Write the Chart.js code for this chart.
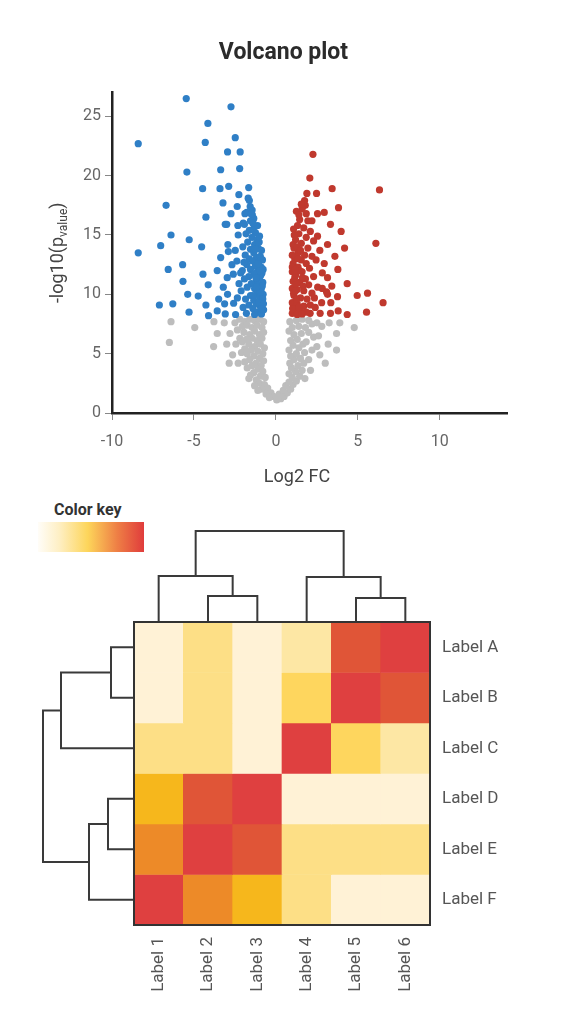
<!DOCTYPE html>
<html>
<head>
<meta charset="utf-8">
<script src="https://cdn.jsdelivr.net/npm/chart.js@4.4.0/dist/chart.umd.min.js"></script>
<style>
  body { margin: 0; background: #fff; font-family: Roboto, sans-serif; }
  #page { position: relative; width: 567px; height: 1024px; overflow: hidden; }
  canvas { position: absolute; }
  #key-title { position: absolute; left: 54px; top: 500px; line-height: 20px; font-weight: bold; font-size: 16px; color: #333; }
  #key-bar { position: absolute; left: 38px; top: 522px; width: 106px; height: 30px;
    background: linear-gradient(to right, #fffdf8 0%, #feefc4 20%, #fdd55a 47%, #ee7e45 75%, #e03c3c 100%); }
</style>
</head>
<body>
<div id="page">
  <canvas id="volcano" width="567" height="500" style="left:0;top:0"></canvas>
  <div id="key-title">Color key</div>
  <div id="key-bar"></div>
  <canvas id="dendro-top" width="312" height="111" style="left:126px;top:519px"></canvas>
  <canvas id="dendro-left" width="112" height="319" style="left:30px;top:614px"></canvas>
  <canvas id="heatmap" width="443" height="422" style="left:124px;top:602px"></canvas>
</div>
<script>
// volcano plot data: [log2 fold change, -log10 p]
const downRegulated = [
    [-5.47, 26.5], [-2.74, 25.8], [-4.15, 24.4], [-8.4, 22.7], [-4.31, 22.8], [-2.48, 23.2],
    [-2.95, 22.0], [-2.18, 22.0], [-5.43, 20.3], [-3.37, 20.5], [-2.21, 20.6], [-4.47, 18.9],
    [-3.41, 18.9], [-2.88, 19.1], [-1.66, 19.0], [-2.26, 18.4], [-1.69, 18.1], [-6.7, 17.5],
    [-3.23, 17.7], [-2.36, 17.4], [-1.57, 17.4], [-4.27, 16.5], [-2.74, 16.8], [-3.09, 15.9],
    [-3.0, 15.9], [-1.89, 16.8], [-1.44, 16.7], [-1.99, 16.0], [-6.4, 15.0], [-5.29, 14.6],
    [-7.03, 14.1], [-4.53, 14.0], [-2.93, 14.2], [-2.3, 15.0], [-2.32, 15.8], [-8.4, 13.5],
    [-3.37, 13.1], [-2.38, 12.8], [-2.48, 13.7], [-2.9, 13.6], [-5.69, 12.5], [-6.57, 12.1],
    [-3.58, 12.0], [-2.68, 12.5], [-2.6, 11.7], [-4.45, 11.7], [-5.67, 11.1], [-4.13, 10.8],
    [-2.97, 11.4], [-3.21, 10.6], [-5.38, 10.0], [-4.74, 9.85], [-3.49, 9.6], [-2.95, 10.0],
    [-7.11, 9.1], [-6.29, 9.2], [-4.27, 9.1], [-3.13, 9.2], [-5.3, 8.5], [-4.11, 8.2],
    [-3.58, 8.6], [-3.09, 8.35], [-2.58, 9.25], [-2.46, 8.3],
    [-1.62, 17.9], [-1.45, 17.1], [-1.78, 16.9], [-1.35, 16.4], [-1.55, 16.2], [-1.92, 15.9],
    [-1.32, 15.7], [-1.62, 15.4], [-1.25, 15.2], [-1.82, 15.1], [-1.45, 14.8], [-1.15, 14.6],
    [-1.72, 14.4], [-1.3, 14.2], [-2.02, 14.0], [-1.55, 13.8], [-1.08, 13.9], [-1.35, 13.5],
    [-1.87, 13.3], [-1.18, 13.1], [-0.95, 13.2], [-1.62, 13.0], [-1.42, 12.8], [-1.05, 12.7],
    [-1.77, 12.5], [-1.25, 12.4], [-0.9, 12.3], [-1.55, 12.1], [-2.05, 12.0], [-1.15, 11.9],
    [-1.35, 11.7], [-0.85, 11.8], [-1.65, 11.5], [-1.0, 11.4], [-1.92, 11.3], [-1.2, 11.1],
    [-0.8, 11.0], [-1.5, 10.9], [-1.05, 10.8], [-1.75, 10.6], [-1.3, 10.5], [-0.9, 10.4],
    [-2.12, 10.3], [-1.15, 10.1], [-0.78, 10.0], [-1.55, 9.9], [-1.0, 9.8], [-1.85, 9.6],
    [-1.35, 9.5], [-0.85, 9.4], [-1.2, 9.2], [-1.65, 9.1], [-0.95, 9.0], [-2.0, 8.9],
    [-1.4, 8.8], [-0.75, 8.7], [-1.1, 8.5], [-1.8, 8.4], [-0.88, 8.35], [-1.3, 8.3],
    [-0.82, 12.9], [-1.02, 14.4], [-1.12, 15.8], [-0.8, 9.6], [-0.92, 11.6], [-1.05, 9.3],
    [-2.25, 10.9], [-2.35, 9.7], [-2.15, 11.8], [-1.95, 12.7],
    [-0.78, 12.1], [-0.88, 13.7], [-0.98, 12.0], [-1.1, 12.6], [-0.83, 10.7], [-0.95, 10.2],
    [-1.18, 10.6], [-0.76, 9.2], [-1.25, 13.8], [-1.4, 16.0], [-1.52, 16.8], [-0.9, 8.8],
    [-1.0, 14.9], [-1.22, 11.4], [-1.4, 9.9]
];
const upRegulated = [
    [2.26, 21.8], [2.07, 19.8], [1.89, 18.5], [2.48, 18.5], [3.43, 18.9], [6.32, 18.8],
    [1.79, 17.5], [2.54, 16.8], [2.95, 16.9], [3.82, 17.3], [2.2, 16.2], [3.33, 15.9],
    [3.98, 15.3], [2.54, 14.9], [3.15, 14.2], [4.19, 13.9], [6.1, 14.3], [3.6, 13.2],
    [2.68, 13.7], [2.95, 12.6], [3.78, 12.1], [2.83, 11.8], [3.15, 11.4], [4.35, 10.9],
    [3.41, 10.7], [2.83, 10.5], [3.09, 10.2], [3.15, 10.0], [4.96, 9.9], [5.59, 10.1],
    [6.54, 9.3], [3.76, 9.8], [2.79, 9.3], [3.35, 9.3], [3.8, 8.6], [4.35, 8.3],
    [5.53, 8.5], [2.7, 8.4], [3.33, 8.4], [2.09, 8.4],
    [1.75, 17.9], [1.6, 17.2], [1.85, 16.8], [1.45, 16.3], [1.95, 16.2], [1.32, 15.8],
    [1.7, 15.6], [2.1, 15.3], [1.4, 15.1], [1.85, 14.8], [1.2, 14.6], [2.3, 14.5],
    [1.55, 14.3], [1.1, 13.9], [1.95, 13.9], [1.35, 13.5], [1.75, 13.3], [2.2, 13.2],
    [1.15, 13.0], [1.55, 12.9], [1.05, 12.6], [1.85, 12.6], [1.35, 12.3], [2.05, 12.2],
    [1.0, 11.9], [1.6, 11.9], [1.2, 11.6], [2.3, 11.5], [1.8, 11.3], [1.05, 11.1],
    [1.45, 11.0], [2.0, 10.8], [1.0, 10.5], [1.3, 10.4], [1.7, 10.3], [2.2, 10.1],
    [1.1, 9.9], [1.5, 9.7], [1.9, 9.6], [1.0, 9.3], [1.3, 9.2], [1.7, 9.0],
    [2.1, 9.1], [1.15, 8.8], [1.5, 8.6], [1.0, 8.4], [1.85, 8.5], [1.3, 8.3],
    [2.4, 8.9], [1.6, 8.35], [1.12, 15.0], [1.05, 14.2], [1.25, 17.0], [1.0, 13.3],
    [2.45, 12.9], [2.55, 10.6], [2.35, 9.7], [1.45, 12.0], [1.22, 10.9], [1.62, 11.4],
    [1.0, 12.3], [1.08, 10.1], [1.18, 12.1], [1.02, 8.8], [1.25, 9.6], [1.35, 13.0],
    [1.15, 11.4], [1.4, 16.7], [1.55, 17.6], [1.3, 14.0], [1.08, 15.5], [1.4, 8.9],
    [1.2, 10.3], [1.65, 10.7], [1.5, 13.7]
];
const notSignificant = [
    [-6.4, 7.7], [-6.5, 5.95], [-4.95, 7.2], [-3.78, 7.7], [-3.8, 5.6], [-3.15, 7.6],
    [-3.58, 6.7], [-2.8, 6.7], [-3.0, 5.8], [-2.85, 4.2], [-2.64, 4.9], [-2.5, 7.6],
    [-2.44, 5.8], [-2.3, 4.2], [-1.65, 2.9],
    [-2.2, 7.9], [-1.9, 7.7], [-1.6, 7.9], [-1.3, 7.8], [-1.0, 7.9], [-0.75, 7.7],
    [-2.05, 7.3], [-1.75, 7.4], [-1.45, 7.2], [-1.15, 7.4], [-0.85, 7.2], [-2.35, 7.0],
    [-1.95, 6.8], [-1.6, 6.6], [-1.3, 6.9], [-1.0, 6.6], [-0.75, 6.8], [-2.2, 6.3],
    [-1.8, 6.2], [-1.45, 6.3], [-1.15, 6.1], [-0.85, 6.3], [-2.05, 6.0],
    [-1.65, 5.8], [-1.3, 5.6], [-0.95, 5.8], [-0.7, 5.5], [-1.9, 5.4], [-1.5, 5.3],
    [-1.1, 5.2], [-2.1, 5.1], [-0.8, 5.0], [-1.75, 5.0],
    [-1.35, 4.8], [-1.0, 4.6], [-1.6, 4.5], [-0.75, 4.4], [-1.9, 4.3], [-1.2, 4.2],
    [-0.9, 4.0], [-1.45, 4.0], [-1.75, 3.8],
    [-1.1, 3.7], [-0.8, 3.5], [-1.35, 3.4], [-1.55, 3.2], [-0.95, 3.1], [-0.65, 3.0], [-1.2, 2.8],
    [-1.0, 2.5], [-0.7, 2.4], [-1.3, 2.3], [-0.5, 2.1], [-0.85, 2.0], [-1.1, 1.9],
    [-0.3, 1.7], [-0.6, 1.6], [-0.15, 1.4], [-0.4, 1.3], [0.05, 1.1], [0.3, 1.2],
    [0.5, 1.4], [0.2, 1.6], [0.7, 1.7], [0.45, 1.9], [0.9, 2.0], [0.6, 2.3],
    [1.05, 2.4], [0.8, 2.6], [1.25, 2.7],
    [1.0, 3.0], [1.45, 3.1], [0.8, 3.3], [1.2, 3.5], [1.77, 2.9], [1.6, 3.6], [0.95, 3.8], [2.11, 3.6],
    [1.35, 4.0], [0.85, 4.2], [1.7, 4.2], [1.1, 4.5], [1.5, 4.6], [0.9, 4.8], [2.0, 4.5],
    [2.68, 4.9], [3.01, 4.2],
    [1.25, 5.0], [1.75, 5.1], [0.8, 5.3], [1.4, 5.5], [2.2, 5.3], [1.05, 5.7], [1.65, 5.8],
    [2.5, 5.6], [3.19, 5.8], [3.7, 5.3],
    [0.9, 6.1], [1.3, 6.2], [1.85, 6.0], [2.3, 6.4], [1.1, 6.6], [1.55, 6.7], [2.0, 6.8],
    [0.8, 6.9], [2.6, 6.5], [3.7, 6.7],
    [1.0, 7.2], [1.4, 7.3], [1.8, 7.2], [2.2, 7.5], [0.85, 7.7], [1.25, 7.8], [1.6, 7.9],
    [2.0, 7.8], [2.5, 7.6], [2.8, 7.3], [3.25, 7.6], [3.9, 7.6], [4.78, 7.2]
];
const xTicks = [-10, -5, 0, 5, 10];
const yTicks = [0, 5, 10, 15, 20, 25];

// heatmap data
const colLabels = ["Label 1", "Label 2", "Label 3", "Label 4", "Label 5", "Label 6"];
const rowLabels = ["Label A", "Label B", "Label C", "Label D", "Label E", "Label F"];
const heatValues = [
    [0.0, 0.3, 0.0, 0.2, 0.85, 1.0],
    [0.0, 0.3, 0.0, 0.4, 1.0, 0.85],
    [0.3, 0.3, 0.0, 1.0, 0.4, 0.2],
    [0.55, 0.85, 1.0, 0.0, 0.0, 0.0],
    [0.7, 1.0, 0.85, 0.3, 0.3, 0.3],
    [1.0, 0.7, 0.55, 0.3, 0.0, 0.0]
];
// dendrogram links: [left pos, left child height, right pos, right child height, merge height]
const colLinks = [
    [1, 0, 2, 0, 26],
    [4, 0, 5, 0, 24],
    [0, 0, 1.5, 26, 46],
    [3, 0, 4.5, 24, 45],
    [0.75, 46, 3.75, 45, 91]
];
const rowLinks = [
    [0, 0, 1, 0, 23],
    [0.5, 23, 2, 0, 73],
    [3, 0, 4, 0, 26],
    [3.5, 26, 5, 0, 45],
    [1.25, 73, 4.25, 45, 91]
];

const heatStops = [
    [0, "#fff2d6"], [0.2, "#fde7a4"], [0.3, "#fddf86"], [0.4, "#fed65e"],
    [0.55, "#f6b71c"], [0.7, "#ed8a28"], [0.85, "#e05537"], [1, "#df4040"]
];

Chart.defaults.font.family = "Roboto";
Chart.defaults.animation = false;
Chart.defaults.plugins.legend.display = false;
Chart.defaults.plugins.tooltip.enabled = false;

function hexToRgb(h) {
    return [1, 3, 5].map(i => parseInt(h.slice(i, i + 2), 16));
}

function heatColor(v) {
    for (let i = 1; i < heatStops.length; i++) {
        const [v1, c1] = heatStops[i];
        const [v0, c0] = heatStops[i - 1];
        if (v <= v1) {
            const t = (v - v0) / (v1 - v0);
            const a = hexToRgb(c0), b = hexToRgb(c1);
            const rgb = a.map((x, k) => Math.round(x + (b[k] - x) * t));
            return `rgb(${rgb.join(",")})`;
        }
    }
    return heatStops[heatStops.length - 1][1];
}

const toXY = arr => arr.map(p => ({ x: p[0], y: p[1] }));

// axis titles for the volcano plot (subscript needs manual drawing)
const volcanoTitles = {
    id: "volcanoTitles",
    afterDraw(chart) {
        const { ctx, chartArea } = chart;
        ctx.save();
        ctx.fillStyle = "#444";
        ctx.font = "18px Roboto";
        ctx.textAlign = "center";
        ctx.textBaseline = "middle";
        ctx.fillText("Log2 FC", 297, 477);

        ctx.translate(57, (chartArea.top + chartArea.bottom) / 2);
        ctx.rotate(-Math.PI / 2);
        ctx.textAlign = "left";
        ctx.textBaseline = "alphabetic";
        const main = "-log10(p", sub = "value", close = ")";
        ctx.font = "18px Roboto";
        const w1 = ctx.measureText(main).width;
        const w3 = ctx.measureText(close).width;
        ctx.font = "12px Roboto";
        const w2 = ctx.measureText(sub).width;
        let x = -(w1 + w2 + w3) / 2;
        ctx.font = "18px Roboto";
        ctx.fillText(main, x, 6);
        x += w1;
        ctx.font = "12px Roboto";
        ctx.fillText(sub, x, 10);
        x += w2;
        ctx.font = "18px Roboto";
        ctx.fillText(close, x, 6);
        ctx.restore();
    }
};

new Chart(document.getElementById("volcano"), {
    type: "scatter",
    data: {
        datasets: [
            { data: toXY(downRegulated), backgroundColor: "#2f7fc6", order: 1 },
            { data: toXY(upRegulated), backgroundColor: "#c0392e", order: 1 },
            { data: toXY(notSignificant), backgroundColor: "#bdbdbd", order: 2 }
        ]
    },
    options: {
        responsive: false,
        layout: { padding: 0 },
        elements: { point: { radius: 3.6, borderWidth: 0, hoverRadius: 3.6 } },
        plugins: {
            title: {
                display: true,
                text: "Volcano plot",
                color: "#2b2b2b",
                font: { size: 23, weight: "bold" },
                padding: { top: 39, bottom: 26 }
            }
        },
        scales: {
            x: {
                type: "linear",
                min: -10,
                max: 14.1,
                afterFit: s => { s.height = 87; },
                afterBuildTicks: s => { s.ticks = xTicks.map(v => ({ value: v })); },
                grid: { drawOnChartArea: false, drawTicks: true, tickLength: 7, color: "#888" },
                border: { display: true, color: "#222", width: 2.5 },
                ticks: { color: "#666", font: { size: 16 }, padding: 12 }
            },
            y: {
                type: "linear",
                min: 0,
                max: 27,
                afterFit: s => { s.width = 112; },
                afterBuildTicks: s => { s.ticks = yTicks.map(v => ({ value: v })); },
                grid: { drawOnChartArea: false, drawTicks: true, tickLength: 7, color: "#888" },
                border: { display: true, color: "#222", width: 2.5 },
                ticks: { color: "#666", font: { size: 16 }, padding: 4 }
            },
            // empty right-hand margin so the title stays centred on the page
            spacer: {
                type: "linear",
                position: "right",
                afterFit: s => { s.width = 60; },
                grid: { display: false },
                border: { display: false },
                ticks: { display: false }
            }
        }
    },
    plugins: [volcanoTitles]
});

// dendrograms
const lineStyle = { showLine: true, borderColor: "#3a3a3a", borderWidth: 2, pointRadius: 0, tension: 0, fill: false, clip: false };

new Chart(document.getElementById("dendro-top"), {
    type: "scatter",
    data: {
        datasets: colLinks.map(([xl, hl, xr, hr, h]) => ({
            ...lineStyle,
            data: [{ x: xl, y: hl }, { x: xl, y: h }, { x: xr, y: h }, { x: xr, y: hr }]
        }))
    },
    options: {
        responsive: false,
        layout: { padding: 8 },
        scales: {
            x: { display: false, min: -0.5, max: 5.5 },
            y: { display: false, min: 0, max: 95 }
        }
    }
});

new Chart(document.getElementById("dendro-left"), {
    type: "scatter",
    data: {
        datasets: rowLinks.map(([yl, hl, yr, hr, h]) => ({
            ...lineStyle,
            data: [{ x: hl, y: yl }, { x: h, y: yl }, { x: h, y: yr }, { x: hr, y: yr }]
        }))
    },
    options: {
        responsive: false,
        layout: { padding: 8 },
        scales: {
            x: { display: false, min: 0, max: 96, reverse: true },
            y: { display: false, min: -0.5, max: 5.5, reverse: true }
        }
    }
});

// heatmap drawn as floating bars, one dataset per row
const heatFrame = {
    id: "heatFrame",
    afterDatasetsDraw(chart) {
        const { ctx, chartArea: a } = chart;
        ctx.save();
        ctx.strokeStyle = "#333";
        ctx.lineWidth = 2;
        ctx.strokeRect(a.left, a.top, a.right - a.left, a.bottom - a.top);
        ctx.restore();
    }
};

new Chart(document.getElementById("heatmap"), {
    type: "bar",
    data: {
        labels: colLabels,
        datasets: rowLabels.map((row, r) => ({
            label: row,
            data: colLabels.map(() => [r, r + 1]),
            backgroundColor: heatValues[r].map(heatColor),
            borderWidth: 0,
            barPercentage: 1,
            categoryPercentage: 1,
            grouped: false
        }))
    },
    options: {
        responsive: false,
        layout: { padding: { left: 10, top: 20, right: 0, bottom: 0 } },
        scales: {
            x: {
                afterFit: s => { s.height = 99; },
                grid: { display: false },
                border: { display: false },
                ticks: { color: "#555", font: { size: 17 }, minRotation: 90, maxRotation: 90, padding: 4 }
            },
            y: {
                position: "right",
                min: 0,
                max: 6,
                reverse: true,
                afterFit: s => { s.width = 137; },
                afterBuildTicks: s => { s.ticks = rowLabels.map((_, i) => ({ value: i + 0.5 })); },
                grid: { display: false },
                border: { display: false },
                ticks: {
                    color: "#555",
                    font: { size: 17 },
                    padding: 4,
                    callback: (v) => rowLabels[Math.floor(v)]
                }
            }
        }
    },
    plugins: [heatFrame]
});
</script>
</body>
</html>
